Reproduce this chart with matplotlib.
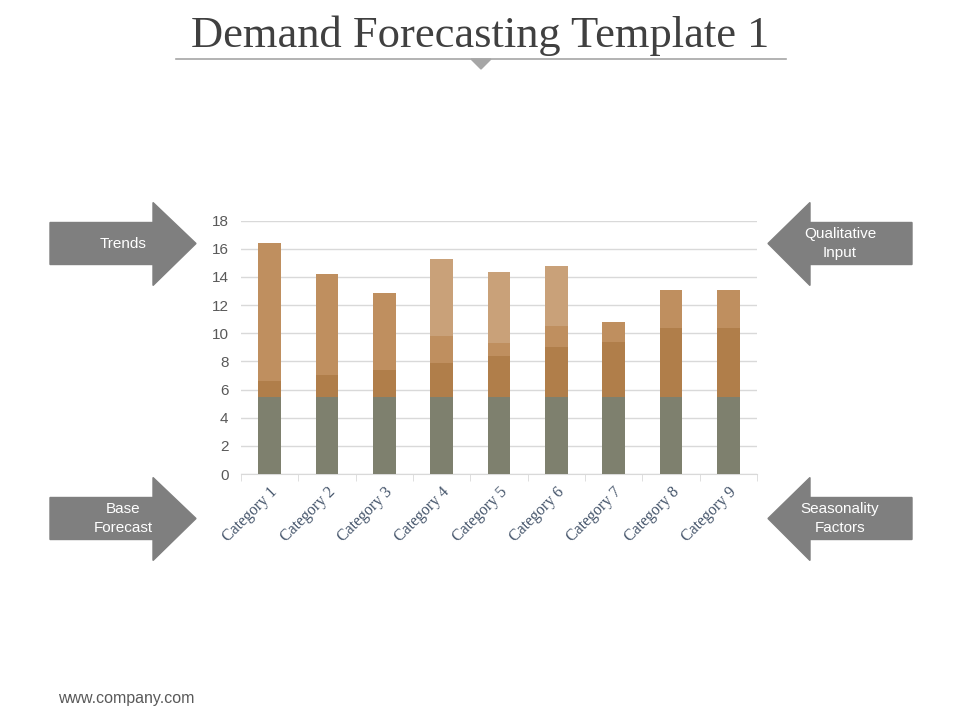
import matplotlib.pyplot as plt
from matplotlib.patches import Polygon
import numpy as np

# chart data
categories = ['Category 1', 'Category 2', 'Category 3', 'Category 4', 'Category 5',
              'Category 6', 'Category 7', 'Category 8', 'Category 9']
series1 = [5.5, 5.5, 5.5, 5.5, 5.5, 5.5, 5.5, 5.5, 5.5]
series2 = [1.1, 1.5, 1.9, 2.4, 2.9, 3.55, 3.9, 4.9, 4.9]
series3 = [9.8, 7.2, 5.45, 1.9, 0.9, 1.5, 1.4, 2.65, 2.65]
series4 = [0, 0, 0, 5.45, 5.05, 4.25, 0, 0, 0]
colors = ['#7e806e', '#b07e4a', '#bf8f5f', '#c9a179']

W, H = 960, 720
fig = plt.figure(figsize=(9.6, 7.2), dpi=100)


def fx(x):
    return x / W


def fy(y):
    return 1 - y / H


# title and underline with small pointer
fig.text(0.5, fy(36), 'Demand Forecasting Template 1', ha='center', va='center',
         fontsize=32, color='#404040', family='Liberation Serif')
fig.add_artist(plt.Line2D([fx(176), fx(786)], [fy(59), fy(59)], color='#a6a6a6', lw=1.2))
fig.add_artist(Polygon([(fx(471), fy(59)), (fx(491), fy(59)), (fx(481), fy(69))],
                       closed=True, color='#a6a6a6', transform=fig.transFigure))

# bar chart
ax = fig.add_axes([fx(241), fy(474), fx(757) - fx(241), fy(220.7) - fy(474)])
x = np.arange(len(categories))
bottom = np.zeros(len(categories))
for vals, c in zip([series1, series2, series3, series4], colors):
    ax.bar(x, vals, width=0.4, bottom=bottom, color=c, zorder=3)
    bottom += np.array(vals)

ax.set_ylim(0, 18)
ax.set_xlim(-0.5, len(categories) - 0.5)
ax.set_yticks(range(0, 19, 2))
ax.yaxis.grid(True, color='#d9d9d9', lw=1, zorder=0)
for s in ['top', 'right', 'left']:
    ax.spines[s].set_visible(False)
ax.spines['bottom'].set_color('#d9d9d9')
ax.tick_params(axis='y', length=0, pad=9, labelsize=11, labelcolor='#595959')
for t in ax.get_yticklabels():
    t.set_family('Liberation Sans')
ax.set_xticks(x)
ax.set_xticklabels(categories, rotation=45, ha='right', va='top', rotation_mode='anchor',
                   fontsize=11.5, color='#44546a', family='Liberation Serif')
ax.tick_params(axis='x', which='major', length=0, pad=7)
ax.set_xticks(np.arange(-0.5, len(categories), 1), minor=True)
ax.tick_params(axis='x', which='minor', length=5, color='#d9d9d9')

# side arrows
arrow_gray = '#7f7f7f'


def right_arrow(y_mid, label):
    pts = [(50, y_mid - 21), (153, y_mid - 21), (153, y_mid - 41), (196, y_mid),
           (153, y_mid + 42), (153, y_mid + 21), (50, y_mid + 21)]
    fig.add_artist(Polygon([(fx(a), fy(b)) for a, b in pts], closed=True,
                           color=arrow_gray, transform=fig.transFigure))
    fig.text(fx(123), fy(y_mid), label, ha='center', va='center', color='white',
             fontsize=11, family='Liberation Sans', linespacing=1.4)


def left_arrow(y_mid, label):
    pts = [(912, y_mid - 21), (810, y_mid - 21), (810, y_mid - 41), (768, y_mid),
           (810, y_mid + 42), (810, y_mid + 21), (912, y_mid + 21)]
    fig.add_artist(Polygon([(fx(a), fy(b)) for a, b in pts], closed=True,
                           color=arrow_gray, transform=fig.transFigure))
    fig.text(fx(840), fy(y_mid), label, ha='center', va='center', color='white',
             fontsize=11, family='Liberation Sans', linespacing=1.4)


right_arrow(243.5, 'Trends')
right_arrow(518.5, 'Base\nForecast')
left_arrow(243.5, 'Qualitative\nInput')
left_arrow(518.5, 'Seasonality\nFactors')

fig.text(fx(58), fy(699), 'www.company.com', ha='left', va='center', fontsize=11.5,
         color='#595959', family='Liberation Sans')

fig.savefig('out.png', dpi=100)
